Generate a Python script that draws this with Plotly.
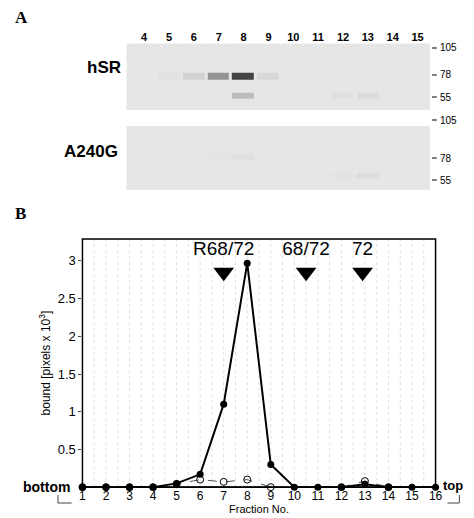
import numpy as np
import plotly.graph_objects as go

# --- panel B data ---
fractions = list(range(1, 17))
hsr_bound = [0, 0, 0, 0, 0.05, 0.17, 1.1, 2.97, 0.3, 0, 0, 0, 0.04, 0, 0, 0]
a240g_bound = [0, 0, 0, 0, 0.04, 0.1, 0.07, 0.1, 0, None, None, 0, 0.08, 0, None, None]
peak_labels = ["R68/72", "68/72", "72"]
peak_pos = [7.0, 10.5, 12.9]
y_ticks = [0.5, 1, 1.5, 2, 2.5, 3]

# --- panel A data (band intensity per lane, rows = MW levels) ---
lanes = list(range(4, 16))
mw_rows = [50, 57, 62, 67, 72, 78, 84, 90, 105]
hsr_78 = [0.0, 0.02, 0.1, 0.4, 0.8, 0.07, 0.0, 0.0, 0.0, 0.0, 0.0, 0.0]
hsr_62 = [0.0, 0.0, 0.0, 0.0, 0.2, 0.0, 0.0, 0.0, 0.03, 0.05, 0.0, 0.0]
mut_78 = [0.0, 0.0, 0.0, 0.01, 0.03, 0.0, 0.0, 0.0, 0.0, 0.0, 0.0, 0.0]
mut_62 = [0.0, 0.0, 0.0, 0.0, 0.0, 0.0, 0.0, 0.0, 0.02, 0.05, 0.0, 0.0]
mw_markers = ["105", "78", "55"]

def blot(b78, b62):
    z = []
    for mw in mw_rows:
        if mw == 78:
            z.append(b78)
        elif mw == 62:
            z.append(b62)
        else:
            z.append([0.0] * len(lanes))
    return z

fig = go.Figure()

gray = [[0, "#e6e6e6"], [1, "#1a1a1a"]]
fig.add_trace(go.Heatmap(x=lanes, y=mw_rows, z=blot(hsr_78, hsr_62), colorscale=gray,
                         zmin=0, zmax=1, showscale=False, xgap=3,
                         xaxis="x2", yaxis="y2", hoverinfo="skip"))
fig.add_trace(go.Heatmap(x=lanes, y=mw_rows, z=blot(mut_78, mut_62), colorscale=gray,
                         zmin=0, zmax=1, showscale=False, xgap=3,
                         xaxis="x3", yaxis="y3", hoverinfo="skip"))

fig.add_trace(go.Scatter(x=fractions, y=a240g_bound, mode="lines+markers",
                         line=dict(color="#555", width=1, dash="dash"),
                         marker=dict(symbol="circle-open", size=7, color="black"),
                         cliponaxis=False, showlegend=False))
fig.add_trace(go.Scatter(x=fractions, y=hsr_bound, mode="lines+markers",
                         line=dict(color="black", width=2),
                         marker=dict(symbol="circle", size=7, color="black"),
                         cliponaxis=False, showlegend=False))
fig.add_trace(go.Scatter(x=peak_pos, y=[2.85] * 3, mode="markers+text",
                         marker=dict(symbol="triangle-down", size=18, color="black"),
                         text=peak_labels, textposition="top center",
                         textfont=dict(size=19, family="Liberation Sans", color="black"),
                         cliponaxis=False, showlegend=False))

fig.update_layout(
    width=474, height=518, margin=dict(l=0, r=0, t=0, b=0),
    paper_bgcolor="white", plot_bgcolor="#e6e6e6",
    font=dict(family="Liberation Sans", color="black", size=12),
    xaxis=dict(domain=[0.154, 0.915], range=[1, 16], anchor="y",
               tickvals=fractions, ticks="", showline=False, zeroline=False,
               showgrid=False, tickfont=dict(size=12),
               title=dict(text="Fraction No.", font=dict(size=11), standoff=0)),
    yaxis=dict(domain=[0.075, 0.554], range=[0, 3.29], tickvals=y_ticks,
               ticktext=["0.5", "1", "1.5", "2", "2.5", "3"], ticks="outside",
               ticklen=3, showgrid=False, zeroline=False, showline=False,
               tickfont=dict(size=13),
               title=dict(text="bound [pixels x 10<sup>3</sup>]", font=dict(size=12), standoff=4)),
    xaxis2=dict(domain=[0.249, 0.903], range=[3.29, 15.5], anchor="y2", side="top",
                tickvals=lanes, ticktext=["<b>%d</b>" % l for l in lanes], ticks="",
                showgrid=False, zeroline=False, tickfont=dict(size=11)),
    yaxis2=dict(domain=[0.803, 0.931], range=[50, 105], visible=False),
    xaxis3=dict(domain=[0.249, 0.903], range=[3.29, 15.5], anchor="y3", visible=False),
    yaxis3=dict(domain=[0.649, 0.772], range=[50, 105], visible=False),
)

shapes = []
# white background for chart panel
shapes.append(dict(type="rect", xref="x domain", yref="y domain", x0=0, x1=1, y0=0, y1=1,
                   fillcolor="white", line=dict(width=0), layer="below"))
# dotted vertical grid
for g in np.arange(1.5, 16, 0.5):
    shapes.append(dict(type="line", xref="x", yref="y", x0=g, x1=g, y0=0, y1=3.29,
                       line=dict(color="#dedede", width=1, dash="dot"), layer="below"))
# frame and baseline
shapes.append(dict(type="rect", xref="x domain", yref="y domain", x0=0, x1=1, y0=0, y1=1,
                   line=dict(color="black", width=1.5)))
shapes.append(dict(type="line", xref="x", yref="y", x0=1, x1=16, y0=0, y1=0,
                   line=dict(color="black", width=2)))
# brackets under axis
for xa, xb in [(48, 62), (458, 446)]:
    shapes.append(dict(type="line", xref="paper", yref="paper", x0=xa / 474, x1=xa / 474,
                       y0=1 - 487 / 518, y1=1 - 495 / 518, line=dict(color="#444", width=1)))
    shapes.append(dict(type="line", xref="paper", yref="paper", x0=xa / 474, x1=xb / 474,
                       y0=1 - 495 / 518, y1=1 - 495 / 518, line=dict(color="#444", width=1)))
# MW marker dashes
for ypx in [40, 67, 89, 112, 150, 172]:
    shapes.append(dict(type="line", xref="paper", yref="paper", x0=430 / 474, x1=435 / 474,
                       y0=1 - ypx / 518, y1=1 - ypx / 518, line=dict(color="black", width=1)))
fig.update_layout(shapes=shapes)

ann = [
    dict(text="<b>A</b>", x=2 / 474, y=1 - 10 / 518, font=dict(size=17, family="Liberation Serif")),
    dict(text="<b>B</b>", x=2 / 474, y=1 - 205 / 518, font=dict(size=17, family="Liberation Serif")),
    dict(text="<b>hSR</b>", x=76 / 474, y=1 - 60 / 518, font=dict(size=17)),
    dict(text="<b>A240G</b>", x=52 / 474, y=1 - 143 / 518, font=dict(size=17)),
    dict(text="<b>bottom</b>", x=10 / 474, y=1 - 479 / 518, font=dict(size=14)),
]
for lab, ypx in zip(mw_markers * 2, [40, 67, 89, 112, 150, 172]):
    ann.append(dict(text=lab, x=436 / 474, y=1 - ypx / 518, font=dict(size=10)))
for a in ann:
    a.update(xref="paper", yref="paper", xanchor="left", yanchor="middle", showarrow=False)
ann.append(dict(text="<b>top</b>", x=0.978, y=1 - 477 / 518, xref="paper", yref="paper",
                xanchor="right", yanchor="middle", showarrow=False, font=dict(size=13)))
fig.update_layout(annotations=ann)

fig.write_html("out.html")
